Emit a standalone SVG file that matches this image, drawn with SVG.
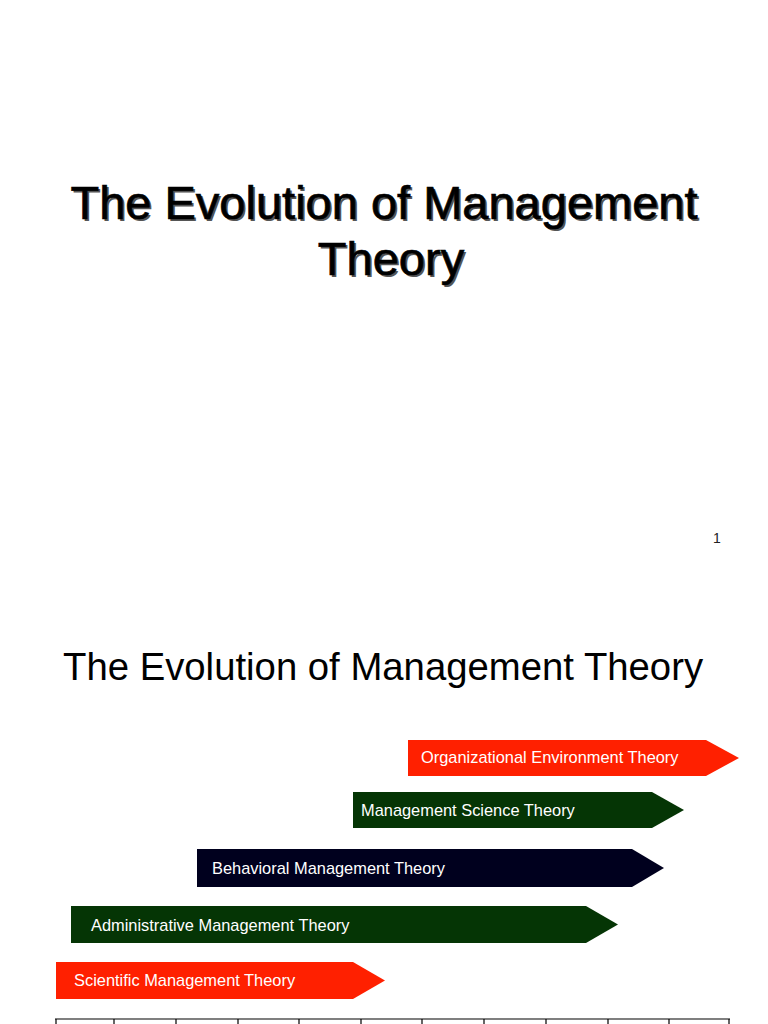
<svg xmlns="http://www.w3.org/2000/svg" width="768" height="1024" viewBox="0 0 768 1024">
<style>
.title{font-family:"Liberation Sans",Arial,sans-serif;font-size:47px;text-anchor:middle}
.sh{fill:#555}
.tf{fill:#000;stroke:#000;stroke-width:0.7}
.lbl{font-family:"Liberation Sans",Arial,sans-serif;font-size:16.4px;fill:#fff}
.ax{stroke:#000;stroke-width:1.2;fill:none}
</style>
<rect width="768" height="1024" fill="#fff"/>
<g id="slide1-title">
<text class="title sh" x="386" y="221">The Evolution of Management</text>
<text class="title sh" x="393" y="277">Theory</text>
<text class="title tf" x="384" y="219">The Evolution of Management</text>
<text class="title tf" x="391" y="275">Theory</text>
</g>
<text id="page-number" x="717" y="543" font-family="Liberation Sans, Arial, sans-serif" font-size="14" fill="#222" text-anchor="middle">1</text>
<text id="slide2-title" x="63" y="680" font-family="Liberation Sans, Arial, sans-serif" font-size="38.3" fill="#000">The Evolution of Management Theory</text>
<g id="org-env">
<polygon points="408,740 706,740 739,758 706,776 408,776" fill="#ff2000"/>
<text class="lbl" x="421" y="763">Organizational Environment Theory</text>
</g>
<g id="mgmt-science">
<polygon points="353,792 652,792 684,810 652,828 353,828" fill="#053505"/>
<text class="lbl" x="361" y="816">Management Science Theory</text>
</g>
<g id="behavioral">
<polygon points="197,849 632,849 664,868 632,887 197,887" fill="#00001e"/>
<text class="lbl" x="212" y="874">Behavioral Management Theory</text>
</g>
<g id="administrative">
<polygon points="71,906 586,906 618,924.5 586,943 71,943" fill="#053505"/>
<text class="lbl" x="91" y="931">Administrative Management Theory</text>
</g>
<g id="scientific">
<polygon points="56,962 353,962 385,980.5 353,999 56,999" fill="#ff2000"/>
<text class="lbl" x="74" y="986">Scientific Management Theory</text>
</g>
<g id="axis">
<line class="ax" x1="55" y1="1019" x2="730" y2="1019" stroke-width="2"/>
<path class="ax" d="M56,1019V1024M114,1019V1024M176,1019V1024M238,1019V1024M299,1019V1024M361,1019V1024M422,1019V1024M484,1019V1024M546,1019V1024M608,1019V1024M669,1019V1024M729,1019V1024"/>
</g>
</svg>
